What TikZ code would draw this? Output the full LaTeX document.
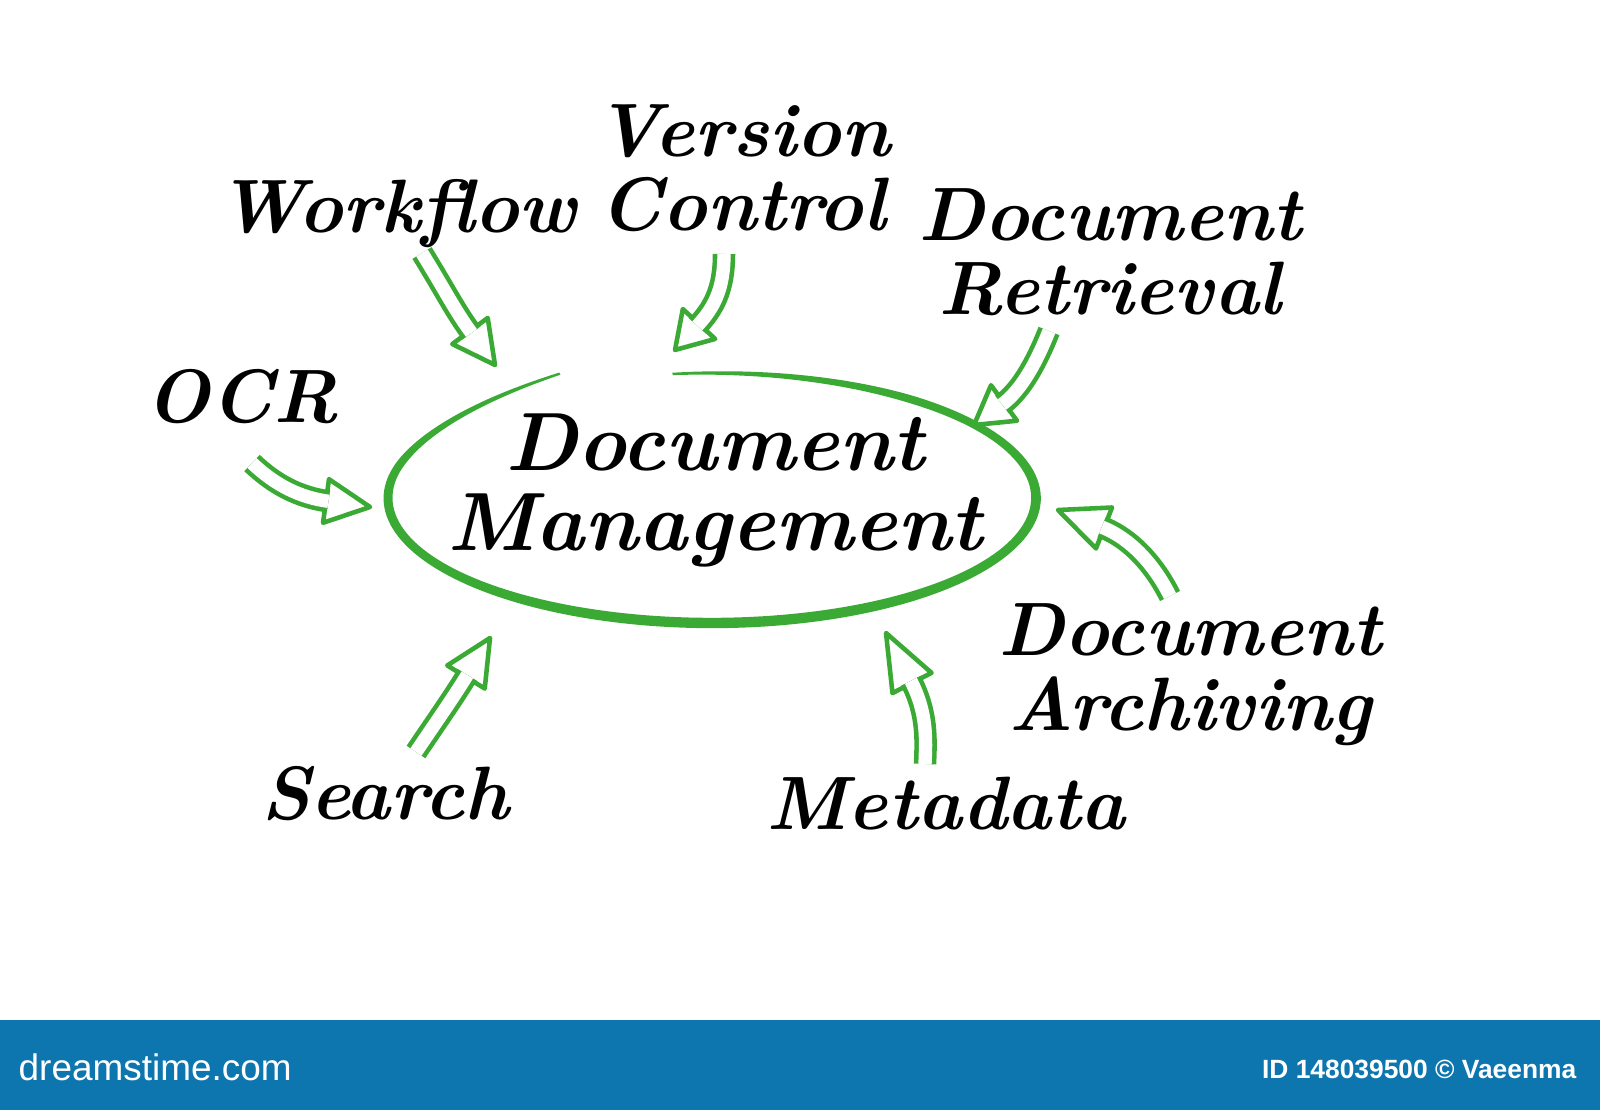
\documentclass[tikz,border=0pt]{standalone}
\usepackage{fontspec}
\usepackage{tikz}
\usetikzlibrary{calc}

\newfontfamily\barfont{Liberation Sans}
\definecolor{dmgreen}{RGB}{58,170,53}
\definecolor{barblue}{RGB}{14,118,174}

% outline arrow: needs coordinates <name>-s, -c, -n, -t
\newcommand{\hollowarrow}[1]{%
	\filldraw[fill=white,draw=dmgreen,line width=1.3pt,line join=round]
		($(#1-n)!0.22cm!90:(#1-t)$) -- (#1-t) -- ($(#1-n)!0.22cm!-90:(#1-t)$) -- cycle;
	\draw[dmgreen,line width=1.3pt,double=white,double distance=3.8pt]
		(#1-s) .. controls (#1-c) and ($(#1-n)!-0.6!(#1-t)$) .. ($(#1-n)!0.7pt!(#1-t)$);
}

\begin{document}
\begin{tikzpicture}[x=0.01cm,y=-0.01cm,
	lbl/.style={font=\fontsize{21.5}{21.3}\selectfont\bfseries\itshape,inner sep=0pt,align=center},
	declare function={hw(\t)=1.2+2.4*min(1,2.5*sin(0.531*(\t+97)))+1.6*sin(0.531*(\t+97));
		lift(\t)=14*(max(0,\t-195)/47)^2;}]
		\useasboundingbox (0,0) rectangle (1600,1110);

		% labels (base = last line)
		\node[lbl,anchor=base] (wf) at (397,233) {Workflow};
		\node[lbl,anchor=base] (vc) at (743,231) {Version\\Control};
		\node[lbl,anchor=base] (dr) at (1110,315) {Document\\Retrieval};
		\node[lbl,anchor=base] (ocr) at (242,423) {OCR};
		\node[lbl,anchor=base,font=\fontsize{23.5}{23}\selectfont\bfseries\itshape] (dm) at (715,551) {Document\\Management};
		\node[lbl,anchor=base] (se) at (385,819) {Search};
		\node[lbl,anchor=base] (md) at (946,829) {Metadata};
		\node[lbl,anchor=base] (da) at (1190,730) {Document\\Archiving};

		% the open ring round the centre
		\fill[dmgreen] plot[domain=-97:242,samples=180,variable=\t] ({712+(324+hw(\t))*cos(\t)},{498+(125+hw(\t))*sin(\t)-lift(\t)})
			-- plot[domain=242:-97,samples=180,variable=\t] ({712+(324-hw(\t))*cos(\t)},{498+(125-hw(\t))*sin(\t)-lift(\t)}) -- cycle;

		% arrows
		\coordinate (wf-s) at (422,253);
		\coordinate (wf-c) at (446,292);
		\coordinate (wf-n) at (470,331);
		\coordinate (wf-t) at (495,365);
		\hollowarrow{wf}

		\coordinate (vc-s) at (724,254);
		\coordinate (vc-c) at (724,290);
		\coordinate (vc-n) at (699,324);
		\coordinate (vc-t) at (675,350);
		\hollowarrow{vc}

		\coordinate (dr-s) at (1049,331);
		\coordinate (dr-c) at (1037,361);
		\coordinate (dr-n) at (1004,403);
		\coordinate (dr-t) at (974,425);
		\hollowarrow{dr}

		\coordinate (ocr-s) at (252,463);
		\coordinate (ocr-c) at (275,485);
		\coordinate (ocr-n) at (326,501);
		\coordinate (ocr-t) at (370,507);
		\hollowarrow{ocr}

		\coordinate (se-s) at (416,752);
		\coordinate (se-c) at (432,728);
		\coordinate (se-n) at (466,677);
		\coordinate (se-t) at (490,638);
		\hollowarrow{se}

		\coordinate (md-s) at (925,764);
		\coordinate (md-c) at (926,740);
		\coordinate (md-n) at (912,683);
		\coordinate (md-t) at (886,633);
		\hollowarrow{md}

		\coordinate (da-s) at (1170,596);
		\coordinate (da-c) at (1155,566);
		\coordinate (da-n) at (1104,528);
		\coordinate (da-t) at (1058,510);
		\hollowarrow{da}

		% bottom bar
		\fill[barblue] (0,1020) rectangle (1600,1110);
		\node[anchor=base west,text=white,inner sep=0pt,font=\barfont\fontsize{10.5}{12}\selectfont] (logo) at (18,1080) {dreamstime.com};
		\node[anchor=base east,text=white,inner sep=0pt,font=\barfont\bfseries\fontsize{7.5}{9}\selectfont] (id) at (1577,1078) {ID 148039500 © Vaeenma};
\end{tikzpicture}
\end{document}
